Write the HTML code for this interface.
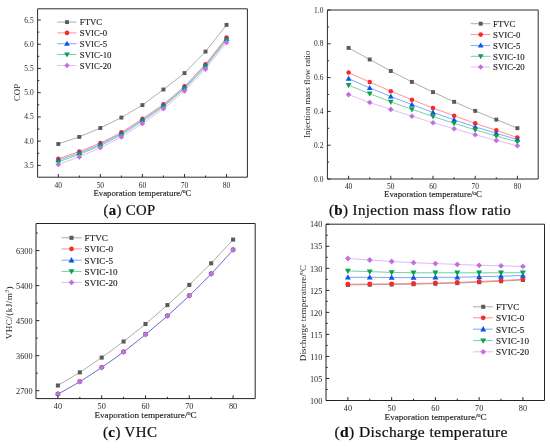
<!DOCTYPE html>
<html><head><meta charset="utf-8"><title>Figure</title>
<style>html,body{margin:0;padding:0;background:#fff}body{width:550px;height:448px;overflow:hidden}svg{display:block}</style>
</head><body>
<svg width="550" height="448" viewBox="0 0 550 448" font-family='"Liberation Serif", serif' stroke-linejoin="round"><style>.t text{stroke:#1e1e1e;stroke-width:0.14px}.t text.k{stroke:none;fill:#262626}.t text.cap{stroke:#111;stroke-width:0.22px}</style><g class="t">
<polyline points="58.30,144.00 79.33,136.90 100.36,128.00 121.39,117.60 142.42,105.10 163.45,89.50 184.48,73.10 205.51,51.60 226.54,24.90" fill="none" stroke="#8c8c8c" stroke-width="0.70"/>
<rect x="56.35" y="142.05" width="3.90" height="3.90" fill="#5a5a5a"/>
<rect x="77.38" y="134.95" width="3.90" height="3.90" fill="#5a5a5a"/>
<rect x="98.41" y="126.05" width="3.90" height="3.90" fill="#5a5a5a"/>
<rect x="119.44" y="115.65" width="3.90" height="3.90" fill="#5a5a5a"/>
<rect x="140.47" y="103.15" width="3.90" height="3.90" fill="#5a5a5a"/>
<rect x="161.50" y="87.55" width="3.90" height="3.90" fill="#5a5a5a"/>
<rect x="182.53" y="71.15" width="3.90" height="3.90" fill="#5a5a5a"/>
<rect x="203.56" y="49.65" width="3.90" height="3.90" fill="#5a5a5a"/>
<rect x="224.59" y="22.95" width="3.90" height="3.90" fill="#5a5a5a"/>
<polyline points="58.30,158.70 79.33,151.50 100.36,143.10 121.39,132.40 142.42,118.70 163.45,104.30 184.48,86.40 205.51,64.20 226.54,37.60" fill="none" stroke="#ff6464" stroke-width="0.70"/>
<circle cx="58.30" cy="158.70" r="2.30" fill="#fb2a2a"/>
<circle cx="79.33" cy="151.50" r="2.30" fill="#fb2a2a"/>
<circle cx="100.36" cy="143.10" r="2.30" fill="#fb2a2a"/>
<circle cx="121.39" cy="132.40" r="2.30" fill="#fb2a2a"/>
<circle cx="142.42" cy="118.70" r="2.30" fill="#fb2a2a"/>
<circle cx="163.45" cy="104.30" r="2.30" fill="#fb2a2a"/>
<circle cx="184.48" cy="86.40" r="2.30" fill="#fb2a2a"/>
<circle cx="205.51" cy="64.20" r="2.30" fill="#fb2a2a"/>
<circle cx="226.54" cy="37.60" r="2.30" fill="#fb2a2a"/>
<polyline points="58.30,160.27 79.33,152.96 100.36,144.37 121.39,133.62 142.42,120.02 163.45,105.52 184.48,87.62 205.51,65.52 226.54,38.90" fill="none" stroke="#4488f4" stroke-width="0.70"/>
<polygon points="58.30,157.27 61.15,162.37 55.45,162.37" fill="#0a55f0"/>
<polygon points="79.33,149.96 82.18,155.06 76.48,155.06" fill="#0a55f0"/>
<polygon points="100.36,141.37 103.21,146.47 97.51,146.47" fill="#0a55f0"/>
<polygon points="121.39,130.62 124.24,135.72 118.54,135.72" fill="#0a55f0"/>
<polygon points="142.42,117.02 145.27,122.12 139.57,122.12" fill="#0a55f0"/>
<polygon points="163.45,102.52 166.30,107.61 160.60,107.61" fill="#0a55f0"/>
<polygon points="184.48,84.62 187.33,89.72 181.63,89.72" fill="#0a55f0"/>
<polygon points="205.51,62.52 208.36,67.62 202.66,67.62" fill="#0a55f0"/>
<polygon points="226.54,35.90 229.39,41.00 223.69,41.00" fill="#0a55f0"/>
<polyline points="58.30,161.89 79.33,154.47 100.36,145.69 121.39,134.88 142.42,121.39 163.45,106.77 184.48,88.88 205.51,66.89 226.54,40.24" fill="none" stroke="#3cbf80" stroke-width="0.70"/>
<polygon points="58.30,164.89 61.15,159.79 55.45,159.79" fill="#0aa050"/>
<polygon points="79.33,157.47 82.18,152.37 76.48,152.37" fill="#0aa050"/>
<polygon points="100.36,148.69 103.21,143.59 97.51,143.59" fill="#0aa050"/>
<polygon points="121.39,137.88 124.24,132.78 118.54,132.78" fill="#0aa050"/>
<polygon points="142.42,124.39 145.27,119.30 139.57,119.30" fill="#0aa050"/>
<polygon points="163.45,109.77 166.30,104.67 160.60,104.67" fill="#0aa050"/>
<polygon points="184.48,91.88 187.33,86.78 181.63,86.78" fill="#0aa050"/>
<polygon points="205.51,69.89 208.36,64.80 202.66,64.80" fill="#0aa050"/>
<polygon points="226.54,43.24 229.39,38.14 223.69,38.14" fill="#0aa050"/>
<polyline points="58.30,164.50 79.33,156.90 100.36,147.80 121.39,136.90 142.42,123.60 163.45,108.80 184.48,90.90 205.51,69.10 226.54,42.40" fill="none" stroke="#d9a0ee" stroke-width="0.70"/>
<polygon points="58.30,161.70 61.10,164.50 58.30,167.30 55.50,164.50" fill="#c070e0"/>
<polygon points="79.33,154.10 82.13,156.90 79.33,159.70 76.53,156.90" fill="#c070e0"/>
<polygon points="100.36,145.00 103.16,147.80 100.36,150.60 97.56,147.80" fill="#c070e0"/>
<polygon points="121.39,134.10 124.19,136.90 121.39,139.70 118.59,136.90" fill="#c070e0"/>
<polygon points="142.42,120.80 145.22,123.60 142.42,126.40 139.62,123.60" fill="#c070e0"/>
<polygon points="163.45,106.00 166.25,108.80 163.45,111.60 160.65,108.80" fill="#c070e0"/>
<polygon points="184.48,88.10 187.28,90.90 184.48,93.70 181.68,90.90" fill="#c070e0"/>
<polygon points="205.51,66.30 208.31,69.10 205.51,71.90 202.71,69.10" fill="#c070e0"/>
<polygon points="226.54,39.60 229.34,42.40 226.54,45.20 223.74,42.40" fill="#c070e0"/>
<rect x="37.6" y="8.8" width="209.80" height="168.40" fill="none" stroke="#1a1a1a" stroke-width="0.92"/>
<line x1="58.30" y1="177.2" x2="58.30" y2="174.00" stroke="#1a1a1a" stroke-width="0.90"/>
<text x="58.30" y="187.7" class="k" font-size="7.44" text-anchor="middle">40</text>
<line x1="79.33" y1="177.2" x2="79.33" y2="175.50" stroke="#1a1a1a" stroke-width="0.90"/>
<line x1="100.36" y1="177.2" x2="100.36" y2="174.00" stroke="#1a1a1a" stroke-width="0.90"/>
<text x="100.36" y="187.7" class="k" font-size="7.44" text-anchor="middle">50</text>
<line x1="121.39" y1="177.2" x2="121.39" y2="175.50" stroke="#1a1a1a" stroke-width="0.90"/>
<line x1="142.42" y1="177.2" x2="142.42" y2="174.00" stroke="#1a1a1a" stroke-width="0.90"/>
<text x="142.42" y="187.7" class="k" font-size="7.44" text-anchor="middle">60</text>
<line x1="163.45" y1="177.2" x2="163.45" y2="175.50" stroke="#1a1a1a" stroke-width="0.90"/>
<line x1="184.48" y1="177.2" x2="184.48" y2="174.00" stroke="#1a1a1a" stroke-width="0.90"/>
<text x="184.48" y="187.7" class="k" font-size="7.44" text-anchor="middle">70</text>
<line x1="205.51" y1="177.2" x2="205.51" y2="175.50" stroke="#1a1a1a" stroke-width="0.90"/>
<line x1="226.54" y1="177.2" x2="226.54" y2="174.00" stroke="#1a1a1a" stroke-width="0.90"/>
<text x="226.54" y="187.7" class="k" font-size="7.44" text-anchor="middle">80</text>
<line x1="37.6" y1="165.40" x2="40.80" y2="165.40" stroke="#1a1a1a" stroke-width="0.90"/>
<text x="33.6" y="167.91" class="k" font-size="7.44" text-anchor="end">3.5</text>
<line x1="37.6" y1="141.17" x2="40.80" y2="141.17" stroke="#1a1a1a" stroke-width="0.90"/>
<text x="33.6" y="143.68" class="k" font-size="7.44" text-anchor="end">4.0</text>
<line x1="37.6" y1="116.93" x2="40.80" y2="116.93" stroke="#1a1a1a" stroke-width="0.90"/>
<text x="33.6" y="119.44" class="k" font-size="7.44" text-anchor="end">4.5</text>
<line x1="37.6" y1="92.70" x2="40.80" y2="92.70" stroke="#1a1a1a" stroke-width="0.90"/>
<text x="33.6" y="95.21" class="k" font-size="7.44" text-anchor="end">5.0</text>
<line x1="37.6" y1="68.46" x2="40.80" y2="68.46" stroke="#1a1a1a" stroke-width="0.90"/>
<text x="33.6" y="70.97" class="k" font-size="7.44" text-anchor="end">5.5</text>
<line x1="37.6" y1="44.23" x2="40.80" y2="44.23" stroke="#1a1a1a" stroke-width="0.90"/>
<text x="33.6" y="46.74" class="k" font-size="7.44" text-anchor="end">6.0</text>
<line x1="37.6" y1="19.99" x2="40.80" y2="19.99" stroke="#1a1a1a" stroke-width="0.90"/>
<text x="33.6" y="22.50" class="k" font-size="7.44" text-anchor="end">6.5</text>
<line x1="37.6" y1="153.28" x2="39.30" y2="153.28" stroke="#1a1a1a" stroke-width="0.90"/>
<line x1="37.6" y1="129.05" x2="39.30" y2="129.05" stroke="#1a1a1a" stroke-width="0.90"/>
<line x1="37.6" y1="104.81" x2="39.30" y2="104.81" stroke="#1a1a1a" stroke-width="0.90"/>
<line x1="37.6" y1="80.58" x2="39.30" y2="80.58" stroke="#1a1a1a" stroke-width="0.90"/>
<line x1="37.6" y1="56.34" x2="39.30" y2="56.34" stroke="#1a1a1a" stroke-width="0.90"/>
<line x1="37.6" y1="32.11" x2="39.30" y2="32.11" stroke="#1a1a1a" stroke-width="0.90"/>
<text transform="translate(19.5,92.5) rotate(-90)" class="k" font-size="8.75" letter-spacing="0" text-anchor="middle">COP</text>
<text x="142.4" y="195.9" font-size="8.75" text-anchor="middle" fill="#1e1e1e">Evaporation temperature/<tspan font-size="5.69" dy="-2.80">o</tspan><tspan dy="2.80">C</tspan></text>
<line x1="57.2" y1="22.1" x2="76.5" y2="22.1" stroke="#8c8c8c" stroke-width="0.70"/>
<rect x="65.05" y="20.15" width="3.90" height="3.90" fill="#5a5a5a"/>
<text x="79.8" y="25.49" font-size="8.75" fill="#1e1e1e">FTVC</text>
<line x1="57.2" y1="32.9" x2="76.5" y2="32.9" stroke="#ff6464" stroke-width="0.70"/>
<circle cx="67.00" cy="32.90" r="2.30" fill="#fb2a2a"/>
<text x="79.8" y="36.29" font-size="8.75" fill="#1e1e1e">SVIC-0</text>
<line x1="57.2" y1="43.7" x2="76.5" y2="43.7" stroke="#4488f4" stroke-width="0.70"/>
<polygon points="67.00,40.70 69.85,45.80 64.15,45.80" fill="#0a55f0"/>
<text x="79.8" y="47.09" font-size="8.75" fill="#1e1e1e">SVIC-5</text>
<line x1="57.2" y1="54.5" x2="76.5" y2="54.5" stroke="#3cbf80" stroke-width="0.70"/>
<polygon points="67.00,57.50 69.85,52.40 64.15,52.40" fill="#0aa050"/>
<text x="79.8" y="57.89" font-size="8.75" fill="#1e1e1e">SVIC-10</text>
<line x1="57.2" y1="65.5" x2="76.5" y2="65.5" stroke="#d9a0ee" stroke-width="0.70"/>
<polygon points="67.00,62.70 69.80,65.50 67.00,68.30 64.20,65.50" fill="#c070e0"/>
<text x="79.8" y="68.89" font-size="8.75" fill="#1e1e1e">SVIC-20</text>
<polyline points="348.60,47.90 369.70,59.50 390.80,71.00 411.90,81.90 433.00,92.10 454.10,101.80 475.20,110.90 496.30,119.60 517.40,128.20" fill="none" stroke="#8c8c8c" stroke-width="0.70"/>
<rect x="346.65" y="45.95" width="3.90" height="3.90" fill="#5a5a5a"/>
<rect x="367.75" y="57.55" width="3.90" height="3.90" fill="#5a5a5a"/>
<rect x="388.85" y="69.05" width="3.90" height="3.90" fill="#5a5a5a"/>
<rect x="409.95" y="79.95" width="3.90" height="3.90" fill="#5a5a5a"/>
<rect x="431.05" y="90.15" width="3.90" height="3.90" fill="#5a5a5a"/>
<rect x="452.15" y="99.85" width="3.90" height="3.90" fill="#5a5a5a"/>
<rect x="473.25" y="108.95" width="3.90" height="3.90" fill="#5a5a5a"/>
<rect x="494.35" y="117.65" width="3.90" height="3.90" fill="#5a5a5a"/>
<rect x="515.45" y="126.25" width="3.90" height="3.90" fill="#5a5a5a"/>
<polyline points="348.60,72.50 369.70,82.10 390.80,91.20 411.90,99.70 433.00,108.10 454.10,115.80 475.20,123.30 496.30,130.40 517.40,137.50" fill="none" stroke="#ff6464" stroke-width="0.70"/>
<circle cx="348.60" cy="72.50" r="2.30" fill="#fb2a2a"/>
<circle cx="369.70" cy="82.10" r="2.30" fill="#fb2a2a"/>
<circle cx="390.80" cy="91.20" r="2.30" fill="#fb2a2a"/>
<circle cx="411.90" cy="99.70" r="2.30" fill="#fb2a2a"/>
<circle cx="433.00" cy="108.10" r="2.30" fill="#fb2a2a"/>
<circle cx="454.10" cy="115.80" r="2.30" fill="#fb2a2a"/>
<circle cx="475.20" cy="123.30" r="2.30" fill="#fb2a2a"/>
<circle cx="496.30" cy="130.40" r="2.30" fill="#fb2a2a"/>
<circle cx="517.40" cy="137.50" r="2.30" fill="#fb2a2a"/>
<polyline points="348.60,78.60 369.70,87.90 390.80,96.50 411.90,104.60 433.00,112.50 454.10,119.80 475.20,126.90 496.30,133.30 517.40,139.50" fill="none" stroke="#4488f4" stroke-width="0.70"/>
<polygon points="348.60,75.60 351.45,80.70 345.75,80.70" fill="#0a55f0"/>
<polygon points="369.70,84.90 372.55,90.00 366.85,90.00" fill="#0a55f0"/>
<polygon points="390.80,93.50 393.65,98.60 387.95,98.60" fill="#0a55f0"/>
<polygon points="411.90,101.60 414.75,106.70 409.05,106.70" fill="#0a55f0"/>
<polygon points="433.00,109.50 435.85,114.60 430.15,114.60" fill="#0a55f0"/>
<polygon points="454.10,116.80 456.95,121.90 451.25,121.90" fill="#0a55f0"/>
<polygon points="475.20,123.90 478.05,129.00 472.35,129.00" fill="#0a55f0"/>
<polygon points="496.30,130.30 499.15,135.40 493.45,135.40" fill="#0a55f0"/>
<polygon points="517.40,136.50 520.25,141.60 514.55,141.60" fill="#0a55f0"/>
<polyline points="348.60,85.20 369.70,93.70 390.80,101.90 411.90,109.40 433.00,116.40 454.10,123.30 475.20,129.80 496.30,136.00 517.40,141.80" fill="none" stroke="#3cbf80" stroke-width="0.70"/>
<polygon points="348.60,88.20 351.45,83.10 345.75,83.10" fill="#0aa050"/>
<polygon points="369.70,96.70 372.55,91.60 366.85,91.60" fill="#0aa050"/>
<polygon points="390.80,104.90 393.65,99.80 387.95,99.80" fill="#0aa050"/>
<polygon points="411.90,112.40 414.75,107.30 409.05,107.30" fill="#0aa050"/>
<polygon points="433.00,119.40 435.85,114.30 430.15,114.30" fill="#0aa050"/>
<polygon points="454.10,126.30 456.95,121.20 451.25,121.20" fill="#0aa050"/>
<polygon points="475.20,132.80 478.05,127.70 472.35,127.70" fill="#0aa050"/>
<polygon points="496.30,139.00 499.15,133.90 493.45,133.90" fill="#0aa050"/>
<polygon points="517.40,144.80 520.25,139.70 514.55,139.70" fill="#0aa050"/>
<polyline points="348.60,94.60 369.70,102.50 390.80,109.40 411.90,116.20 433.00,122.70 454.10,128.70 475.20,134.70 496.30,140.40 517.40,145.80" fill="none" stroke="#d9a0ee" stroke-width="0.70"/>
<polygon points="348.60,91.80 351.40,94.60 348.60,97.40 345.80,94.60" fill="#c070e0"/>
<polygon points="369.70,99.70 372.50,102.50 369.70,105.30 366.90,102.50" fill="#c070e0"/>
<polygon points="390.80,106.60 393.60,109.40 390.80,112.20 388.00,109.40" fill="#c070e0"/>
<polygon points="411.90,113.40 414.70,116.20 411.90,119.00 409.10,116.20" fill="#c070e0"/>
<polygon points="433.00,119.90 435.80,122.70 433.00,125.50 430.20,122.70" fill="#c070e0"/>
<polygon points="454.10,125.90 456.90,128.70 454.10,131.50 451.30,128.70" fill="#c070e0"/>
<polygon points="475.20,131.90 478.00,134.70 475.20,137.50 472.40,134.70" fill="#c070e0"/>
<polygon points="496.30,137.60 499.10,140.40 496.30,143.20 493.50,140.40" fill="#c070e0"/>
<polygon points="517.40,143.00 520.20,145.80 517.40,148.60 514.60,145.80" fill="#c070e0"/>
<rect x="327.4" y="10" width="210.80" height="169.00" fill="none" stroke="#1a1a1a" stroke-width="0.92"/>
<line x1="348.60" y1="179" x2="348.60" y2="175.80" stroke="#1a1a1a" stroke-width="0.90"/>
<text x="348.60" y="189.0" class="k" font-size="7.44" text-anchor="middle">40</text>
<line x1="369.70" y1="179" x2="369.70" y2="177.30" stroke="#1a1a1a" stroke-width="0.90"/>
<line x1="390.80" y1="179" x2="390.80" y2="175.80" stroke="#1a1a1a" stroke-width="0.90"/>
<text x="390.80" y="189.0" class="k" font-size="7.44" text-anchor="middle">50</text>
<line x1="411.90" y1="179" x2="411.90" y2="177.30" stroke="#1a1a1a" stroke-width="0.90"/>
<line x1="433.00" y1="179" x2="433.00" y2="175.80" stroke="#1a1a1a" stroke-width="0.90"/>
<text x="433.00" y="189.0" class="k" font-size="7.44" text-anchor="middle">60</text>
<line x1="454.10" y1="179" x2="454.10" y2="177.30" stroke="#1a1a1a" stroke-width="0.90"/>
<line x1="475.20" y1="179" x2="475.20" y2="175.80" stroke="#1a1a1a" stroke-width="0.90"/>
<text x="475.20" y="189.0" class="k" font-size="7.44" text-anchor="middle">70</text>
<line x1="496.30" y1="179" x2="496.30" y2="177.30" stroke="#1a1a1a" stroke-width="0.90"/>
<line x1="517.40" y1="179" x2="517.40" y2="175.80" stroke="#1a1a1a" stroke-width="0.90"/>
<text x="517.40" y="189.0" class="k" font-size="7.44" text-anchor="middle">80</text>
<line x1="327.4" y1="179.00" x2="330.60" y2="179.00" stroke="#1a1a1a" stroke-width="0.90"/>
<text x="323.4" y="181.51" class="k" font-size="7.44" text-anchor="end">0.0</text>
<line x1="327.4" y1="145.20" x2="330.60" y2="145.20" stroke="#1a1a1a" stroke-width="0.90"/>
<text x="323.4" y="147.71" class="k" font-size="7.44" text-anchor="end">0.2</text>
<line x1="327.4" y1="111.40" x2="330.60" y2="111.40" stroke="#1a1a1a" stroke-width="0.90"/>
<text x="323.4" y="113.91" class="k" font-size="7.44" text-anchor="end">0.4</text>
<line x1="327.4" y1="77.60" x2="330.60" y2="77.60" stroke="#1a1a1a" stroke-width="0.90"/>
<text x="323.4" y="80.11" class="k" font-size="7.44" text-anchor="end">0.6</text>
<line x1="327.4" y1="43.80" x2="330.60" y2="43.80" stroke="#1a1a1a" stroke-width="0.90"/>
<text x="323.4" y="46.31" class="k" font-size="7.44" text-anchor="end">0.8</text>
<line x1="327.4" y1="10.00" x2="330.60" y2="10.00" stroke="#1a1a1a" stroke-width="0.90"/>
<text x="323.4" y="12.51" class="k" font-size="7.44" text-anchor="end">1.0</text>
<line x1="327.4" y1="162.10" x2="329.10" y2="162.10" stroke="#1a1a1a" stroke-width="0.90"/>
<line x1="327.4" y1="128.30" x2="329.10" y2="128.30" stroke="#1a1a1a" stroke-width="0.90"/>
<line x1="327.4" y1="94.50" x2="329.10" y2="94.50" stroke="#1a1a1a" stroke-width="0.90"/>
<line x1="327.4" y1="60.70" x2="329.10" y2="60.70" stroke="#1a1a1a" stroke-width="0.90"/>
<line x1="327.4" y1="26.90" x2="329.10" y2="26.90" stroke="#1a1a1a" stroke-width="0.90"/>
<text transform="translate(310,94.2) rotate(-90)" class="k" font-size="8.75" letter-spacing="0" text-anchor="middle">Injection mass flow ratio</text>
<text x="433" y="197.4" font-size="8.75" text-anchor="middle" fill="#1e1e1e">Evaporation temperature/<tspan font-size="5.69" dy="-2.80">o</tspan><tspan dy="2.80">C</tspan></text>
<line x1="470.6" y1="23.7" x2="490.4" y2="23.7" stroke="#8c8c8c" stroke-width="0.70"/>
<rect x="478.75" y="21.75" width="3.90" height="3.90" fill="#5a5a5a"/>
<text x="493.1" y="27.09" font-size="8.75" fill="#1e1e1e">FTVC</text>
<line x1="470.6" y1="34.6" x2="490.4" y2="34.6" stroke="#ff6464" stroke-width="0.70"/>
<circle cx="480.70" cy="34.60" r="2.30" fill="#fb2a2a"/>
<text x="493.1" y="37.99" font-size="8.75" fill="#1e1e1e">SVIC-0</text>
<line x1="470.6" y1="45.5" x2="490.4" y2="45.5" stroke="#4488f4" stroke-width="0.70"/>
<polygon points="480.70,42.50 483.55,47.60 477.85,47.60" fill="#0a55f0"/>
<text x="493.1" y="48.89" font-size="8.75" fill="#1e1e1e">SVIC-5</text>
<line x1="470.6" y1="56.3" x2="490.4" y2="56.3" stroke="#3cbf80" stroke-width="0.70"/>
<polygon points="480.70,59.30 483.55,54.20 477.85,54.20" fill="#0aa050"/>
<text x="493.1" y="59.69" font-size="8.75" fill="#1e1e1e">SVIC-10</text>
<line x1="470.6" y1="67" x2="490.4" y2="67" stroke="#d9a0ee" stroke-width="0.70"/>
<polygon points="480.70,64.20 483.50,67.00 480.70,69.80 477.90,67.00" fill="#c070e0"/>
<text x="493.1" y="70.39" font-size="8.75" fill="#1e1e1e">SVIC-20</text>
<polyline points="57.90,385.50 79.80,372.40 101.70,357.60 123.60,341.50 145.50,324.00 167.40,305.10 189.30,284.90 211.20,263.30 233.10,239.60" fill="none" stroke="#8c8c8c" stroke-width="0.73"/>
<rect x="55.87" y="383.47" width="4.06" height="4.06" fill="#5a5a5a"/>
<rect x="77.77" y="370.37" width="4.06" height="4.06" fill="#5a5a5a"/>
<rect x="99.67" y="355.57" width="4.06" height="4.06" fill="#5a5a5a"/>
<rect x="121.57" y="339.47" width="4.06" height="4.06" fill="#5a5a5a"/>
<rect x="143.47" y="321.97" width="4.06" height="4.06" fill="#5a5a5a"/>
<rect x="165.37" y="303.07" width="4.06" height="4.06" fill="#5a5a5a"/>
<rect x="187.27" y="282.87" width="4.06" height="4.06" fill="#5a5a5a"/>
<rect x="209.17" y="261.27" width="4.06" height="4.06" fill="#5a5a5a"/>
<rect x="231.07" y="237.57" width="4.06" height="4.06" fill="#5a5a5a"/>
<circle cx="57.90" cy="393.95" r="2.39" fill="#fb2a2a"/>
<circle cx="79.80" cy="381.55" r="2.39" fill="#fb2a2a"/>
<circle cx="101.70" cy="367.35" r="2.39" fill="#fb2a2a"/>
<circle cx="123.60" cy="351.75" r="2.39" fill="#fb2a2a"/>
<circle cx="145.50" cy="334.25" r="2.39" fill="#fb2a2a"/>
<circle cx="167.40" cy="315.75" r="2.39" fill="#fb2a2a"/>
<circle cx="189.30" cy="295.55" r="2.39" fill="#fb2a2a"/>
<circle cx="211.20" cy="273.75" r="2.39" fill="#fb2a2a"/>
<circle cx="233.10" cy="249.75" r="2.39" fill="#fb2a2a"/>
<polygon points="57.90,391.30 60.27,395.55 55.53,395.55" fill="#0a55f0"/>
<polygon points="79.80,378.90 82.17,383.15 77.43,383.15" fill="#0a55f0"/>
<polygon points="101.70,364.70 104.07,368.95 99.33,368.95" fill="#0a55f0"/>
<polygon points="123.60,349.10 125.97,353.35 121.23,353.35" fill="#0a55f0"/>
<polygon points="145.50,331.60 147.87,335.85 143.13,335.85" fill="#0a55f0"/>
<polygon points="167.40,313.10 169.77,317.35 165.03,317.35" fill="#0a55f0"/>
<polygon points="189.30,292.90 191.67,297.15 186.93,297.15" fill="#0a55f0"/>
<polygon points="211.20,271.10 213.57,275.35 208.83,275.35" fill="#0a55f0"/>
<polygon points="233.10,247.10 235.47,251.35 230.73,251.35" fill="#0a55f0"/>
<polygon points="57.90,396.50 60.27,392.25 55.53,392.25" fill="#0aa050"/>
<polygon points="79.80,384.10 82.17,379.85 77.43,379.85" fill="#0aa050"/>
<polygon points="101.70,369.90 104.07,365.65 99.33,365.65" fill="#0aa050"/>
<polygon points="123.60,354.30 125.97,350.05 121.23,350.05" fill="#0aa050"/>
<polygon points="145.50,336.80 147.87,332.55 143.13,332.55" fill="#0aa050"/>
<polygon points="167.40,318.30 169.77,314.05 165.03,314.05" fill="#0aa050"/>
<polygon points="189.30,298.10 191.67,293.85 186.93,293.85" fill="#0aa050"/>
<polygon points="211.20,276.30 213.57,272.05 208.83,272.05" fill="#0aa050"/>
<polygon points="233.10,252.30 235.47,248.05 230.73,248.05" fill="#0aa050"/>
<polyline points="57.90,394.20 79.80,381.80 101.70,367.60 123.60,352.00 145.50,334.50 167.40,316.00 189.30,295.80 211.20,274.00 233.10,250.00" fill="none" stroke="#6660c8" stroke-width="0.95"/>
<polygon points="57.90,391.29 60.81,394.20 57.90,397.11 54.99,394.20" fill="#c070e0"/>
<polygon points="79.80,378.89 82.71,381.80 79.80,384.71 76.89,381.80" fill="#c070e0"/>
<polygon points="101.70,364.69 104.61,367.60 101.70,370.51 98.79,367.60" fill="#c070e0"/>
<polygon points="123.60,349.09 126.51,352.00 123.60,354.91 120.69,352.00" fill="#c070e0"/>
<polygon points="145.50,331.59 148.41,334.50 145.50,337.41 142.59,334.50" fill="#c070e0"/>
<polygon points="167.40,313.09 170.31,316.00 167.40,318.91 164.49,316.00" fill="#c070e0"/>
<polygon points="189.30,292.89 192.21,295.80 189.30,298.71 186.39,295.80" fill="#c070e0"/>
<polygon points="211.20,271.09 214.11,274.00 211.20,276.91 208.29,274.00" fill="#c070e0"/>
<polygon points="233.10,247.09 236.01,250.00 233.10,252.91 230.19,250.00" fill="#c070e0"/>
<rect x="36" y="223.5" width="219.20" height="175.10" fill="none" stroke="#1a1a1a" stroke-width="0.96"/>
<line x1="57.90" y1="398.6" x2="57.90" y2="395.27" stroke="#1a1a1a" stroke-width="0.94"/>
<text x="57.90" y="409.2" class="k" font-size="8.24" text-anchor="middle">40</text>
<line x1="79.80" y1="398.6" x2="79.80" y2="396.83" stroke="#1a1a1a" stroke-width="0.94"/>
<line x1="101.70" y1="398.6" x2="101.70" y2="395.27" stroke="#1a1a1a" stroke-width="0.94"/>
<text x="101.70" y="409.2" class="k" font-size="8.24" text-anchor="middle">50</text>
<line x1="123.60" y1="398.6" x2="123.60" y2="396.83" stroke="#1a1a1a" stroke-width="0.94"/>
<line x1="145.50" y1="398.6" x2="145.50" y2="395.27" stroke="#1a1a1a" stroke-width="0.94"/>
<text x="145.50" y="409.2" class="k" font-size="8.24" text-anchor="middle">60</text>
<line x1="167.40" y1="398.6" x2="167.40" y2="396.83" stroke="#1a1a1a" stroke-width="0.94"/>
<line x1="189.30" y1="398.6" x2="189.30" y2="395.27" stroke="#1a1a1a" stroke-width="0.94"/>
<text x="189.30" y="409.2" class="k" font-size="8.24" text-anchor="middle">70</text>
<line x1="211.20" y1="398.6" x2="211.20" y2="396.83" stroke="#1a1a1a" stroke-width="0.94"/>
<line x1="233.10" y1="398.6" x2="233.10" y2="395.27" stroke="#1a1a1a" stroke-width="0.94"/>
<text x="233.10" y="409.2" class="k" font-size="8.24" text-anchor="middle">80</text>
<line x1="36" y1="390.70" x2="39.33" y2="390.70" stroke="#1a1a1a" stroke-width="0.94"/>
<text x="32.5" y="393.89" class="k" font-size="8.24" text-anchor="end">2700</text>
<line x1="36" y1="355.67" x2="39.33" y2="355.67" stroke="#1a1a1a" stroke-width="0.94"/>
<text x="32.5" y="358.86" class="k" font-size="8.24" text-anchor="end">3600</text>
<line x1="36" y1="320.64" x2="39.33" y2="320.64" stroke="#1a1a1a" stroke-width="0.94"/>
<text x="32.5" y="323.83" class="k" font-size="8.24" text-anchor="end">4500</text>
<line x1="36" y1="285.61" x2="39.33" y2="285.61" stroke="#1a1a1a" stroke-width="0.94"/>
<text x="32.5" y="288.80" class="k" font-size="8.24" text-anchor="end">5400</text>
<line x1="36" y1="250.58" x2="39.33" y2="250.58" stroke="#1a1a1a" stroke-width="0.94"/>
<text x="32.5" y="253.77" class="k" font-size="8.24" text-anchor="end">6300</text>
<line x1="36" y1="373.19" x2="37.77" y2="373.19" stroke="#1a1a1a" stroke-width="0.94"/>
<line x1="36" y1="338.15" x2="37.77" y2="338.15" stroke="#1a1a1a" stroke-width="0.94"/>
<line x1="36" y1="303.12" x2="37.77" y2="303.12" stroke="#1a1a1a" stroke-width="0.94"/>
<line x1="36" y1="268.09" x2="37.77" y2="268.09" stroke="#1a1a1a" stroke-width="0.94"/>
<line x1="36" y1="233.06" x2="37.77" y2="233.06" stroke="#1a1a1a" stroke-width="0.94"/>
<text transform="translate(11.5,312.6) rotate(-90)" class="k" font-size="9.15" letter-spacing="0.42" text-anchor="middle">VHC/(kJ/m<tspan font-size="5.8" dy="-3">3</tspan><tspan dy="3">)</tspan></text>
<text x="145.5" y="418.09999999999997" font-size="9.15" text-anchor="middle" fill="#1e1e1e">Evaporation temperature/<tspan font-size="5.95" dy="-2.93">o</tspan><tspan dy="2.93">C</tspan></text>
<line x1="61.5" y1="237.8" x2="81.6" y2="237.8" stroke="#8c8c8c" stroke-width="0.73"/>
<rect x="69.47" y="235.77" width="4.06" height="4.06" fill="#5a5a5a"/>
<text x="84.6" y="241.32" font-size="9.15" fill="#1e1e1e">FTVC</text>
<line x1="61.5" y1="248.9" x2="81.6" y2="248.9" stroke="#ff6464" stroke-width="0.73"/>
<circle cx="71.50" cy="248.90" r="2.39" fill="#fb2a2a"/>
<text x="84.6" y="252.42" font-size="9.15" fill="#1e1e1e">SVIC-0</text>
<line x1="61.5" y1="260.2" x2="81.6" y2="260.2" stroke="#4488f4" stroke-width="0.73"/>
<polygon points="71.50,257.08 74.46,262.38 68.54,262.38" fill="#0a55f0"/>
<text x="84.6" y="263.72" font-size="9.15" fill="#1e1e1e">SVIC-5</text>
<line x1="61.5" y1="271.4" x2="81.6" y2="271.4" stroke="#3cbf80" stroke-width="0.73"/>
<polygon points="71.50,274.52 74.46,269.22 68.54,269.22" fill="#0aa050"/>
<text x="84.6" y="274.92" font-size="9.15" fill="#1e1e1e">SVIC-10</text>
<line x1="61.5" y1="282.4" x2="81.6" y2="282.4" stroke="#d9a0ee" stroke-width="0.73"/>
<polygon points="71.50,279.49 74.41,282.40 71.50,285.31 68.59,282.40" fill="#c070e0"/>
<text x="84.6" y="285.92" font-size="9.15" fill="#1e1e1e">SVIC-20</text>
<polyline points="347.90,284.90 369.77,284.70 391.65,284.50 413.52,284.20 435.40,283.70 457.27,283.10 479.15,282.20 501.02,281.20 522.90,280.00" fill="none" stroke="#8c8c8c" stroke-width="0.73"/>
<rect x="345.87" y="282.87" width="4.06" height="4.06" fill="#5a5a5a"/>
<rect x="367.75" y="282.67" width="4.06" height="4.06" fill="#5a5a5a"/>
<rect x="389.62" y="282.47" width="4.06" height="4.06" fill="#5a5a5a"/>
<rect x="411.50" y="282.17" width="4.06" height="4.06" fill="#5a5a5a"/>
<rect x="433.37" y="281.67" width="4.06" height="4.06" fill="#5a5a5a"/>
<rect x="455.25" y="281.07" width="4.06" height="4.06" fill="#5a5a5a"/>
<rect x="477.12" y="280.17" width="4.06" height="4.06" fill="#5a5a5a"/>
<rect x="499.00" y="279.17" width="4.06" height="4.06" fill="#5a5a5a"/>
<rect x="520.87" y="277.97" width="4.06" height="4.06" fill="#5a5a5a"/>
<polyline points="347.90,284.20 369.77,284.00 391.65,283.80 413.52,283.50 435.40,283.00 457.27,282.40 479.15,281.50 501.02,280.50 522.90,279.30" fill="none" stroke="#ff6464" stroke-width="0.73"/>
<circle cx="347.90" cy="284.20" r="2.39" fill="#fb2a2a"/>
<circle cx="369.77" cy="284.00" r="2.39" fill="#fb2a2a"/>
<circle cx="391.65" cy="283.80" r="2.39" fill="#fb2a2a"/>
<circle cx="413.52" cy="283.50" r="2.39" fill="#fb2a2a"/>
<circle cx="435.40" cy="283.00" r="2.39" fill="#fb2a2a"/>
<circle cx="457.27" cy="282.40" r="2.39" fill="#fb2a2a"/>
<circle cx="479.15" cy="281.50" r="2.39" fill="#fb2a2a"/>
<circle cx="501.02" cy="280.50" r="2.39" fill="#fb2a2a"/>
<circle cx="522.90" cy="279.30" r="2.39" fill="#fb2a2a"/>
<polyline points="347.90,277.30 369.77,277.30 391.65,277.60 413.52,277.60 435.40,277.40 457.27,277.30 479.15,276.70 501.02,276.20 522.90,275.50" fill="none" stroke="#4488f4" stroke-width="0.73"/>
<polygon points="347.90,274.18 350.86,279.48 344.94,279.48" fill="#0a55f0"/>
<polygon points="369.77,274.18 372.74,279.48 366.81,279.48" fill="#0a55f0"/>
<polygon points="391.65,274.48 394.61,279.78 388.69,279.78" fill="#0a55f0"/>
<polygon points="413.52,274.48 416.49,279.78 410.56,279.78" fill="#0a55f0"/>
<polygon points="435.40,274.28 438.36,279.58 432.44,279.58" fill="#0a55f0"/>
<polygon points="457.27,274.18 460.24,279.48 454.31,279.48" fill="#0a55f0"/>
<polygon points="479.15,273.58 482.11,278.88 476.19,278.88" fill="#0a55f0"/>
<polygon points="501.02,273.08 503.99,278.38 498.06,278.38" fill="#0a55f0"/>
<polygon points="522.90,272.38 525.86,277.68 519.94,277.68" fill="#0a55f0"/>
<polyline points="347.90,270.90 369.77,271.60 391.65,272.40 413.52,272.80 435.40,272.80 457.27,272.80 479.15,272.80 501.02,272.80 522.90,272.70" fill="none" stroke="#3cbf80" stroke-width="0.73"/>
<polygon points="347.90,274.02 350.86,268.72 344.94,268.72" fill="#0aa050"/>
<polygon points="369.77,274.72 372.74,269.42 366.81,269.42" fill="#0aa050"/>
<polygon points="391.65,275.52 394.61,270.22 388.69,270.22" fill="#0aa050"/>
<polygon points="413.52,275.92 416.49,270.62 410.56,270.62" fill="#0aa050"/>
<polygon points="435.40,275.92 438.36,270.62 432.44,270.62" fill="#0aa050"/>
<polygon points="457.27,275.92 460.24,270.62 454.31,270.62" fill="#0aa050"/>
<polygon points="479.15,275.92 482.11,270.62 476.19,270.62" fill="#0aa050"/>
<polygon points="501.02,275.92 503.99,270.62 498.06,270.62" fill="#0aa050"/>
<polygon points="522.90,275.82 525.86,270.52 519.94,270.52" fill="#0aa050"/>
<polyline points="347.90,258.50 369.77,260.00 391.65,261.50 413.52,262.70 435.40,263.60 457.27,264.40 479.15,265.30 501.02,265.80 522.90,266.40" fill="none" stroke="#d9a0ee" stroke-width="0.73"/>
<polygon points="347.90,255.59 350.81,258.50 347.90,261.41 344.99,258.50" fill="#c070e0"/>
<polygon points="369.77,257.09 372.69,260.00 369.77,262.91 366.86,260.00" fill="#c070e0"/>
<polygon points="391.65,258.59 394.56,261.50 391.65,264.41 388.74,261.50" fill="#c070e0"/>
<polygon points="413.52,259.79 416.44,262.70 413.52,265.61 410.61,262.70" fill="#c070e0"/>
<polygon points="435.40,260.69 438.31,263.60 435.40,266.51 432.49,263.60" fill="#c070e0"/>
<polygon points="457.27,261.49 460.19,264.40 457.27,267.31 454.36,264.40" fill="#c070e0"/>
<polygon points="479.15,262.39 482.06,265.30 479.15,268.21 476.24,265.30" fill="#c070e0"/>
<polygon points="501.02,262.89 503.94,265.80 501.02,268.71 498.11,265.80" fill="#c070e0"/>
<polygon points="522.90,263.49 525.81,266.40 522.90,269.31 519.99,266.40" fill="#c070e0"/>
<rect x="326" y="224.2" width="218.50" height="176.30" fill="none" stroke="#1a1a1a" stroke-width="0.96"/>
<line x1="347.90" y1="400.5" x2="347.90" y2="397.17" stroke="#1a1a1a" stroke-width="0.94"/>
<text x="347.90" y="410.7" class="k" font-size="8.24" text-anchor="middle">40</text>
<line x1="369.77" y1="400.5" x2="369.77" y2="398.73" stroke="#1a1a1a" stroke-width="0.94"/>
<line x1="391.65" y1="400.5" x2="391.65" y2="397.17" stroke="#1a1a1a" stroke-width="0.94"/>
<text x="391.65" y="410.7" class="k" font-size="8.24" text-anchor="middle">50</text>
<line x1="413.52" y1="400.5" x2="413.52" y2="398.73" stroke="#1a1a1a" stroke-width="0.94"/>
<line x1="435.40" y1="400.5" x2="435.40" y2="397.17" stroke="#1a1a1a" stroke-width="0.94"/>
<text x="435.40" y="410.7" class="k" font-size="8.24" text-anchor="middle">60</text>
<line x1="457.27" y1="400.5" x2="457.27" y2="398.73" stroke="#1a1a1a" stroke-width="0.94"/>
<line x1="479.15" y1="400.5" x2="479.15" y2="397.17" stroke="#1a1a1a" stroke-width="0.94"/>
<text x="479.15" y="410.7" class="k" font-size="8.24" text-anchor="middle">70</text>
<line x1="501.02" y1="400.5" x2="501.02" y2="398.73" stroke="#1a1a1a" stroke-width="0.94"/>
<line x1="522.90" y1="400.5" x2="522.90" y2="397.17" stroke="#1a1a1a" stroke-width="0.94"/>
<text x="522.90" y="410.7" class="k" font-size="8.24" text-anchor="middle">80</text>
<line x1="326" y1="400.50" x2="329.33" y2="400.50" stroke="#1a1a1a" stroke-width="0.94"/>
<text x="322.3" y="403.69" class="k" font-size="8.24" text-anchor="end">100</text>
<line x1="326" y1="378.47" x2="329.33" y2="378.47" stroke="#1a1a1a" stroke-width="0.94"/>
<text x="322.3" y="381.66" class="k" font-size="8.24" text-anchor="end">105</text>
<line x1="326" y1="356.44" x2="329.33" y2="356.44" stroke="#1a1a1a" stroke-width="0.94"/>
<text x="322.3" y="359.63" class="k" font-size="8.24" text-anchor="end">110</text>
<line x1="326" y1="334.41" x2="329.33" y2="334.41" stroke="#1a1a1a" stroke-width="0.94"/>
<text x="322.3" y="337.60" class="k" font-size="8.24" text-anchor="end">115</text>
<line x1="326" y1="312.38" x2="329.33" y2="312.38" stroke="#1a1a1a" stroke-width="0.94"/>
<text x="322.3" y="315.57" class="k" font-size="8.24" text-anchor="end">120</text>
<line x1="326" y1="290.35" x2="329.33" y2="290.35" stroke="#1a1a1a" stroke-width="0.94"/>
<text x="322.3" y="293.54" class="k" font-size="8.24" text-anchor="end">125</text>
<line x1="326" y1="268.32" x2="329.33" y2="268.32" stroke="#1a1a1a" stroke-width="0.94"/>
<text x="322.3" y="271.51" class="k" font-size="8.24" text-anchor="end">130</text>
<line x1="326" y1="246.29" x2="329.33" y2="246.29" stroke="#1a1a1a" stroke-width="0.94"/>
<text x="322.3" y="249.48" class="k" font-size="8.24" text-anchor="end">135</text>
<line x1="326" y1="224.26" x2="329.33" y2="224.26" stroke="#1a1a1a" stroke-width="0.94"/>
<text x="322.3" y="227.45" class="k" font-size="8.24" text-anchor="end">140</text>
<line x1="326" y1="389.49" x2="327.77" y2="389.49" stroke="#1a1a1a" stroke-width="0.94"/>
<line x1="326" y1="367.45" x2="327.77" y2="367.45" stroke="#1a1a1a" stroke-width="0.94"/>
<line x1="326" y1="345.43" x2="327.77" y2="345.43" stroke="#1a1a1a" stroke-width="0.94"/>
<line x1="326" y1="323.39" x2="327.77" y2="323.39" stroke="#1a1a1a" stroke-width="0.94"/>
<line x1="326" y1="301.37" x2="327.77" y2="301.37" stroke="#1a1a1a" stroke-width="0.94"/>
<line x1="326" y1="279.33" x2="327.77" y2="279.33" stroke="#1a1a1a" stroke-width="0.94"/>
<line x1="326" y1="257.31" x2="327.77" y2="257.31" stroke="#1a1a1a" stroke-width="0.94"/>
<line x1="326" y1="235.28" x2="327.77" y2="235.28" stroke="#1a1a1a" stroke-width="0.94"/>
<text transform="translate(306.0,313) rotate(-90)" class="k" font-size="9.15" letter-spacing="0.1" text-anchor="middle">Discharge temperature/<tspan font-size="5.8" dy="-3">o</tspan><tspan dy="3">C</tspan></text>
<text x="435.6" y="420.0" font-size="9.15" text-anchor="middle" fill="#1e1e1e">Evaporation temperature/<tspan font-size="5.95" dy="-2.93">o</tspan><tspan dy="2.93">C</tspan></text>
<line x1="473" y1="306.8" x2="492.8" y2="306.8" stroke="#8c8c8c" stroke-width="0.73"/>
<rect x="481.17" y="304.77" width="4.06" height="4.06" fill="#5a5a5a"/>
<text x="496" y="310.32" font-size="9.15" fill="#1e1e1e">FTVC</text>
<line x1="473" y1="317.8" x2="492.8" y2="317.8" stroke="#ff6464" stroke-width="0.73"/>
<circle cx="483.20" cy="317.80" r="2.39" fill="#fb2a2a"/>
<text x="496" y="321.32" font-size="9.15" fill="#1e1e1e">SVIC-0</text>
<line x1="473" y1="329.2" x2="492.8" y2="329.2" stroke="#4488f4" stroke-width="0.73"/>
<polygon points="483.20,326.08 486.16,331.38 480.24,331.38" fill="#0a55f0"/>
<text x="496" y="332.72" font-size="9.15" fill="#1e1e1e">SVIC-5</text>
<line x1="473" y1="340.6" x2="492.8" y2="340.6" stroke="#3cbf80" stroke-width="0.73"/>
<polygon points="483.20,343.72 486.16,338.42 480.24,338.42" fill="#0aa050"/>
<text x="496" y="344.12" font-size="9.15" fill="#1e1e1e">SVIC-10</text>
<line x1="473" y1="351.8" x2="492.8" y2="351.8" stroke="#d9a0ee" stroke-width="0.73"/>
<polygon points="483.20,348.89 486.11,351.80 483.20,354.71 480.29,351.80" fill="#c070e0"/>
<text x="496" y="355.32" font-size="9.15" fill="#1e1e1e">SVIC-20</text>
<text class="cap" transform="translate(103.5,215.2) scale(1.08,1)" font-size="13.6" fill="#111" stroke="none" letter-spacing="0.35">(<tspan font-weight="bold">a</tspan>) COP</text>
<text class="cap" transform="translate(329,215.2) scale(1.1,1)" font-size="13.6" fill="#111" stroke="none" letter-spacing="0.35">(<tspan font-weight="bold">b</tspan>) Injection mass flow ratio</text>
<text class="cap" transform="translate(103,436.5) scale(1.1,1)" font-size="13.6" fill="#111" stroke="none" letter-spacing="0.35">(<tspan font-weight="bold">c</tspan>) VHC</text>
<text class="cap" transform="translate(334.5,436.5) scale(1.142,1)" font-size="13.6" fill="#111" stroke="none" letter-spacing="0.35">(<tspan font-weight="bold">d</tspan>) Discharge temperature</text>
</g></svg>
</body></html>
